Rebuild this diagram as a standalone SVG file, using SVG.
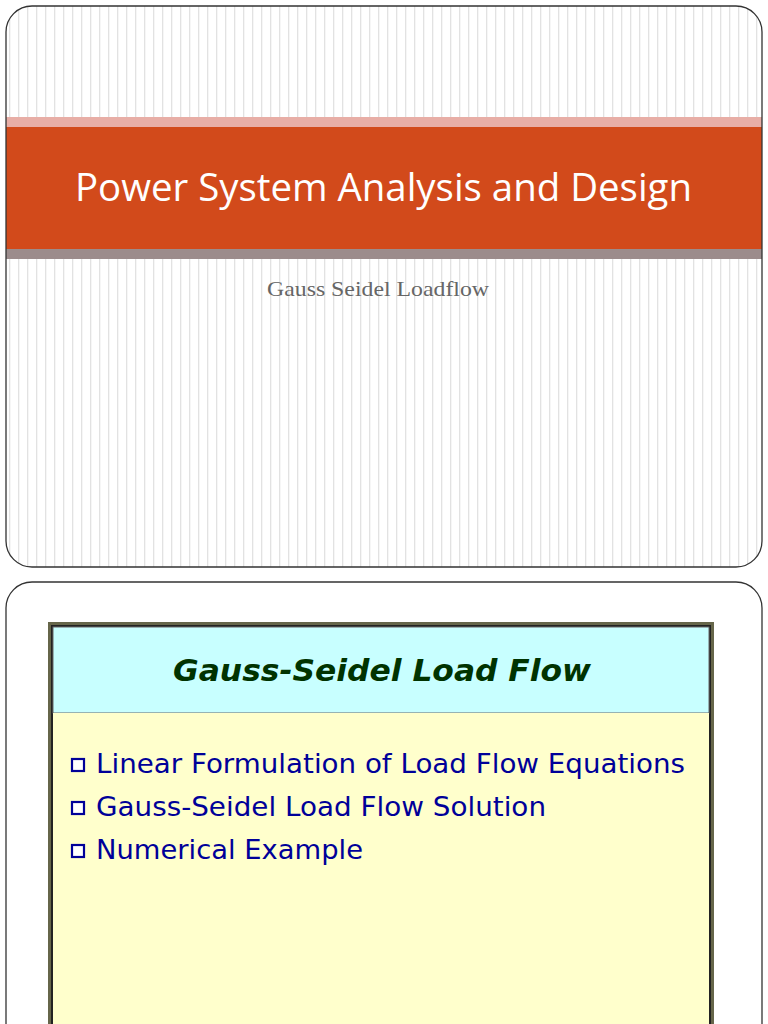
<svg xmlns="http://www.w3.org/2000/svg" width="768" height="1024" viewBox="0 0 768 1024">
<defs>
<pattern id="stripes" x="0" y="0" width="9" height="10" patternUnits="userSpaceOnUse">
<rect width="9" height="10" fill="#ffffff"/>
<rect x="0" width="1.3" height="10" fill="#e2e2e2"/>
</pattern>
<clipPath id="c1"><rect x="6" y="6" width="756" height="561" rx="26"/></clipPath>
</defs>
<style>
.bul{font-family:"DejaVu Sans",Verdana,sans-serif;font-size:27px;fill:#000099}
</style>
<rect width="768" height="1024" fill="#ffffff"/>
<g id="slide1">
<g clip-path="url(#c1)">
<rect x="6" y="6" width="756" height="561" fill="url(#stripes)"/>
<rect x="6" y="117" width="756" height="10" fill="#e8aea6"/>
<rect x="6" y="127" width="756" height="122" fill="#d24a1b"/>
<rect x="6" y="249" width="756" height="10" fill="#9c8c8c"/>
</g>
<rect x="6" y="6" width="756" height="561" rx="26" fill="none" stroke="#333" stroke-width="1.3"/>
<text x="75" y="201" textLength="617" lengthAdjust="spacingAndGlyphs" font-family="'Open Sans','Liberation Sans',sans-serif" font-size="38" fill="#ffffff">Power System Analysis and Design</text>
<text x="267" y="296" textLength="222" lengthAdjust="spacingAndGlyphs" font-family="'Liberation Serif',serif" font-size="22" fill="#666666">Gauss Seidel Loadflow</text>
</g>
<g id="slide2">
<rect x="6" y="582" width="756" height="480" rx="26" fill="#ffffff" stroke="#333" stroke-width="1.3"/>
<rect x="48" y="622" width="666" height="420" fill="#66664a"/>
<rect x="51" y="625" width="660" height="420" fill="#222"/>
<rect x="53" y="627" width="656" height="86" fill="#c8ffff" stroke="#666" stroke-width="1"/>
<rect x="53" y="713" width="656" height="330" fill="#ffffcc"/>
<text x="173" y="681" textLength="418" lengthAdjust="spacingAndGlyphs" font-family="Verdana,'DejaVu Sans',sans-serif" font-size="30" font-weight="bold" font-style="italic" fill="#003300">Gauss-Seidel Load Flow</text>
<g fill="#ffffff" stroke="#000099" stroke-width="2.2">
<rect x="72" y="759" width="12" height="12"/>
<rect x="72" y="802" width="12" height="12"/>
<rect x="72" y="845" width="12" height="12"/>
</g>
<text class="bul" x="96" y="773" textLength="589" lengthAdjust="spacingAndGlyphs">Linear Formulation of Load Flow Equations</text>
<text class="bul" x="96" y="816" textLength="450" lengthAdjust="spacingAndGlyphs">Gauss-Seidel Load Flow Solution</text>
<text class="bul" x="96" y="859" textLength="267" lengthAdjust="spacingAndGlyphs">Numerical Example</text>
</g>
</svg>
